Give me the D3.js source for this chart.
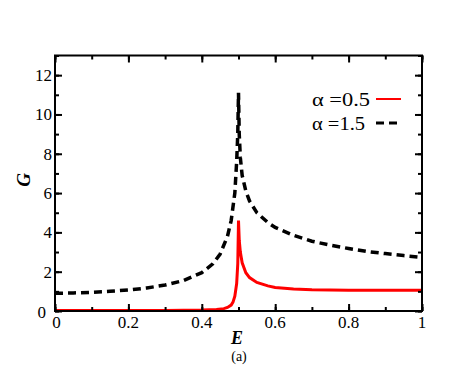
<!DOCTYPE html>
<html><head><meta charset="utf-8">
<script src="https://cdn.jsdelivr.net/npm/d3@7"></script>
</head><body style="margin:0"><svg id="c" width="474" height="366"></svg>
<script>
const xTicks = [0, 0.2, 0.4, 0.6, 0.8, 1];
const xTickLabels = ["0", "0.2", "0.4", "0.6", "0.8", "1"];
const yTicks = [0, 2, 4, 6, 8, 10, 12];
const yTickLabels = ["0", "2", "4", "6", "8", "10", "12"];
const seriesNames = ["\u03b1 =0.5", "\u03b1 =1.5"];
const blackE = [0, 0.05, 0.1, 0.15, 0.2, 0.25, 0.3, 0.35, 0.4, 0.43, 0.45, 0.47, 0.48, 0.49, 0.495, 0.498, 0.5, 0.502, 0.505, 0.51, 0.52, 0.53, 0.55, 0.58, 0.6, 0.65, 0.7, 0.75, 0.8, 0.85, 0.9, 0.95, 1.0];
const blackG = [0.9, 0.92, 0.95, 1.0, 1.07, 1.17, 1.32, 1.55, 1.95, 2.4, 2.9, 3.8, 4.6, 6.0, 7.6, 9.0, 11.1, 9.0, 7.8, 6.9, 6.1, 5.6, 5.0, 4.5, 4.25, 3.85, 3.55, 3.35, 3.18, 3.03, 2.92, 2.82, 2.73];
const redE = [0, 0.1, 0.2, 0.3, 0.4, 0.44, 0.46, 0.47, 0.48, 0.485, 0.49, 0.495, 0.498, 0.5, 0.502, 0.505, 0.51, 0.52, 0.53, 0.55, 0.58, 0.6, 0.65, 0.7, 0.8, 0.9, 1.0];
const redG = [0.02, 0.02, 0.03, 0.03, 0.05, 0.08, 0.12, 0.18, 0.3, 0.45, 0.75, 1.4, 2.4, 4.6, 3.6, 3.0, 2.45, 1.95, 1.7, 1.45, 1.28, 1.2, 1.12, 1.08, 1.06, 1.06, 1.06];

const svg = d3.select("#c");
const L = 55, R = 422, T = 55.5, B = 311;
const x = d3.scaleLinear().domain([0, 1]).range([L, R]);
const y = d3.scaleLinear().domain([0, 13]).range([B, T]);

const line = d3.line().x(d => x(d[0])).y(d => y(d[1]));
const g = svg.append("g");
g.append("path").datum(blackE.map((e, i) => [e, blackG[i]]))
  .attr("d", line).attr("fill", "none").attr("stroke", "#000").attr("stroke-width", 3.5)
  .attr("stroke-dasharray", "8,5");
g.append("path").datum(redE.map((e, i) => [e, redG[i]]))
  .attr("d", line).attr("fill", "none").attr("stroke", "#f00").attr("stroke-width", 3);

svg.append("rect").attr("x", L).attr("y", T).attr("width", R - L).attr("height", B - T)
  .attr("fill", "none").attr("stroke", "#000").attr("stroke-width", 2);

const xMinor = d3.range(0, 1.0001, 0.1);
const yMinor = d3.range(0, 13.0001, 1);
function ticks(axisGen, sel, tr) {
  sel.attr("transform", tr).call(axisGen);
  sel.select(".domain").remove();
  sel.selectAll("line").attr("stroke", "#000").attr("stroke-width", 2);
  sel.attr("font-family", null).attr("font-size", null);
}
ticks(d3.axisTop(x).tickValues(xMinor).tickSize(4).tickFormat(""), svg.append("g"), `translate(0,${B})`);
ticks(d3.axisTop(x).tickValues(xTicks).tickSize(7).tickFormat(""), svg.append("g"), `translate(0,${B})`);
ticks(d3.axisBottom(x).tickValues(xMinor).tickSize(4).tickFormat(""), svg.append("g"), `translate(0,${T})`);
ticks(d3.axisBottom(x).tickValues(xTicks).tickSize(7).tickFormat(""), svg.append("g"), `translate(0,${T})`);
ticks(d3.axisRight(y).tickValues(yMinor).tickSize(4).tickFormat(""), svg.append("g"), `translate(${L},0)`);
ticks(d3.axisRight(y).tickValues(yTicks).tickSize(7).tickFormat(""), svg.append("g"), `translate(${L},0)`);
ticks(d3.axisLeft(y).tickValues(yMinor).tickSize(4).tickFormat(""), svg.append("g"), `translate(${R},0)`);
ticks(d3.axisLeft(y).tickValues(yTicks).tickSize(7).tickFormat(""), svg.append("g"), `translate(${R},0)`);

const F = "Liberation Serif";
const lab = svg.append("g");
function txt(s) { return lab.append("text").style("font-family", F).attr("fill", "#000").text(s); }
xTicks.forEach((d, i) => txt(xTickLabels[i]).attr("x", x(d) + (d === 0 ? 1.5 : 0)).attr("y", 328).attr("text-anchor", "middle").attr("font-size", 17));
yTicks.forEach((d, i) => txt(yTickLabels[i]).attr("x", d === 0 ? 46 : 52).attr("y", d === 0 ? 318 : y(d) + 6).attr("text-anchor", "end").attr("font-size", 17));

txt("G").attr("transform", "translate(30,180) rotate(-90)").attr("text-anchor", "middle")
  .attr("font-size", 19).attr("font-weight", "bold").attr("font-style", "italic");
txt("E").attr("x", 237).attr("y", 344).attr("text-anchor", "middle")
  .attr("font-size", 18).attr("font-weight", "bold").attr("font-style", "italic");
txt("(a)").attr("x", 239).attr("y", 361).attr("text-anchor", "middle").attr("font-size", 14);

const colors = ["#f00", "#000"];
const dashes = [null, "8,5"];
const legendWidths = [58, 53];
[0, 1].forEach(i => {
  const yy = 99 + i * 24;
  txt(seriesNames[i]).attr("x", 312).attr("y", yy + 7).attr("font-size", 18)
    .attr("textLength", legendWidths[i]).attr("lengthAdjust", "spacingAndGlyphs");
  svg.append("line").attr("x1", 376).attr("x2", 401).attr("y1", yy).attr("y2", yy)
    .attr("stroke", colors[i]).attr("stroke-width", i ? 3 : 2).attr("stroke-dasharray", dashes[i]);
});
</script></body></html>
